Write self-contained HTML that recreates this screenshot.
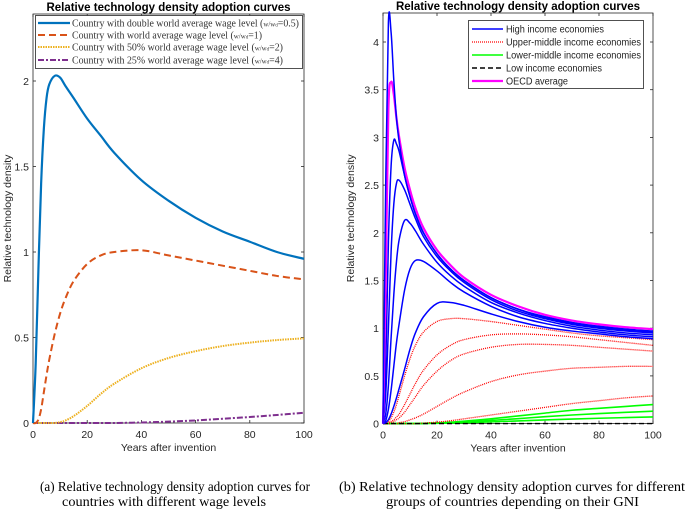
<!DOCTYPE html>
<html><head><meta charset="utf-8"><style>
body{margin:0;background:#fff;width:685px;height:511px;overflow:hidden}
svg{display:block}
.t{font-family:"Liberation Sans",sans-serif;font-size:10.5px;fill:#262626}
.ttl{font-family:"Liberation Sans",sans-serif;font-size:11.5px;font-weight:bold;fill:#000}
.cap{font-family:"Liberation Serif",serif;font-size:14px;fill:#000}
.lg{font-family:"Liberation Serif",serif;font-size:10px;fill:#333}
.lg2{font-family:"Liberation Sans",sans-serif;font-size:10px;fill:#222}
</style></head><body>
<svg id="s" width="685" height="511"></svg>
<script>
const T=[0,1,2,3,4,5,6,8,10,12,15,20,25,30,40,50,60,70,80,90,100];
const xTicks=[0,20,40,60,80,100];
const yTicksA=[0,0.5,1,1.5,2];
const yTicksB=[0,0.5,1,1.5,2,2.5,3,3.5,4];
const aBlue=[0,0.35,0.9,1.4,1.72,1.9,1.98,2.03,2.02,1.97,1.9,1.78,1.68,1.58,1.42,1.3,1.2,1.12,1.06,1.0,0.96];
const aOrange=[0,0,0.02,0.08,0.18,0.28,0.37,0.52,0.64,0.73,0.83,0.93,0.98,1.0,1.01,0.98,0.95,0.92,0.89,0.86,0.84];
const aYellow=[0,0,0,0,0,0,0,0,0.005,0.015,0.04,0.1,0.17,0.23,0.32,0.38,0.42,0.45,0.47,0.485,0.495];
const aPurple=[0,0,0,0,0,0,0,0,0,0,0,0,0,0,0.003,0.008,0.015,0.025,0.035,0.047,0.06];
const hi1=[0,2.5,4.2,4.1,3.6,3.2,2.95,2.6,2.38,2.2,2.0,1.78,1.62,1.5,1.32,1.2,1.12,1.06,1.02,0.99,0.97];
const hi2=[0,0.6,1.9,2.7,2.97,2.93,2.85,2.6,2.38,2.2,2.0,1.78,1.62,1.5,1.32,1.2,1.11,1.05,1.01,0.98,0.96];
const hi3=[0,0.3,1.0,1.8,2.3,2.52,2.55,2.45,2.3,2.15,1.96,1.75,1.6,1.48,1.3,1.18,1.1,1.04,1.0,0.97,0.95];
const hi4=[0,0.1,0.4,0.9,1.35,1.7,1.93,2.13,2.1,2.02,1.88,1.69,1.55,1.44,1.27,1.16,1.08,1.02,0.98,0.95,0.93];
const hi5=[0,0.03,0.15,0.35,0.6,0.85,1.05,1.4,1.62,1.71,1.7,1.6,1.48,1.38,1.23,1.12,1.05,1.0,0.96,0.93,0.91];
const hi6=[0,0.01,0.04,0.1,0.18,0.27,0.37,0.57,0.78,0.95,1.12,1.26,1.27,1.24,1.15,1.07,1.01,0.97,0.94,0.91,0.89];
const up1=[0,0,0.02,0.06,0.12,0.2,0.3,0.5,0.68,0.82,0.96,1.07,1.1,1.1,1.07,1.03,0.99,0.95,0.92,0.9,0.88];
const up2=[0,0,0.01,0.02,0.04,0.07,0.1,0.2,0.31,0.42,0.56,0.72,0.82,0.88,0.93,0.94,0.93,0.91,0.88,0.85,0.82];
const up3=[0,0,0,0.01,0.02,0.04,0.06,0.12,0.2,0.28,0.4,0.55,0.66,0.73,0.8,0.83,0.83,0.82,0.8,0.78,0.76];
const up4=[0,0,0,0,0,0,0.01,0.02,0.04,0.06,0.1,0.18,0.26,0.33,0.44,0.51,0.55,0.58,0.59,0.6,0.6];
const up5=[0,0,0,0,0,0,0,0,0,0,0.005,0.015,0.03,0.05,0.09,0.13,0.17,0.21,0.24,0.27,0.29];
const lm1=[0,0,0,0,0,0,0,0,0,0,0.003,0.008,0.015,0.025,0.05,0.08,0.11,0.14,0.16,0.18,0.2];
const lm2=[0,0,0,0,0,0,0,0,0,0,0.002,0.005,0.01,0.016,0.033,0.052,0.072,0.09,0.105,0.118,0.13];
const lm3=[0,0,0,0,0,0,0,0,0,0,0.001,0.003,0.005,0.009,0.018,0.028,0.038,0.048,0.056,0.063,0.07];
const low1=[0,0,0,0,0,0,0,0,0,0,0,0,0,0,0,0,0,0,0,0,0];
const oecd=[0,1.5,3.3,3.58,3.45,3.2,3.0,2.68,2.45,2.26,2.05,1.82,1.66,1.53,1.35,1.23,1.14,1.08,1.04,1.01,0.99];

const NS="http://www.w3.org/2000/svg";
const S=document.getElementById('s');
function mk(tag,at,parent){const e=document.createElementNS(NS,tag);for(const k in at)e.setAttribute(k,at[k]);(parent||S).appendChild(e);return e;}
function axes(ax){
  const sx=t=>ax.x0+(t/100)*(ax.x1-ax.x0);
  const sy=v=>ax.yb-(v/ax.ymax)*(ax.yb-ax.yt);
  return {sx,sy};
}
function path(sx,sy,ys){
  const p=T.map((t,i)=>[sx(t),sy(ys[i])]);
  let d='M'+p[0][0]+','+p[0][1];
  for(let i=0;i<p.length-1;i++){
    const p0=p[Math.max(0,i-1)],p1=p[i],p2=p[i+1],p3=p[Math.min(p.length-1,i+2)];
    const c1=[p1[0]+(p2[0]-p0[0])/6,p1[1]+(p2[1]-p0[1])/6];
    const c2=[p2[0]-(p3[0]-p1[0])/6,p2[1]-(p3[1]-p1[1])/6];
    d+=`C${c1[0].toFixed(2)},${c1[1].toFixed(2)} ${c2[0].toFixed(2)},${c2[1].toFixed(2)} ${p2[0].toFixed(2)},${p2[1].toFixed(2)}`;
  }
  return d;
}
function frame(ax,yt,name){
  const {sx,sy}=axes(ax);
  const g=mk('g',{});
  
  
  mk('rect',{x:ax.x0,y:ax.yt,width:ax.x1-ax.x0,height:ax.yb-ax.yt,fill:'#fff',stroke:'#262626','stroke-width':0.8},g);
  xTicks.forEach(t=>{
    const x=sx(t);
    mk('line',{x1:x,x2:x,y1:ax.yb,y2:ax.yb-3,stroke:'#262626','stroke-width':0.8},g);
    mk('line',{x1:x,x2:x,y1:ax.yt,y2:ax.yt+3,stroke:'#262626','stroke-width':0.8},g);
    const tx=mk('text',{x:x,y:ax.yb+15,'text-anchor':'middle',class:'t'},g);tx.textContent=t;
    
    
  });
  yt.forEach(v=>{
    const y=sy(v);
    mk('line',{x1:ax.x0,x2:ax.x0+3,y1:y,y2:y,stroke:'#262626','stroke-width':0.8},g);
    mk('line',{x1:ax.x1,x2:ax.x1-3,y1:y,y2:y,stroke:'#262626','stroke-width':0.8},g);
    const tx=mk('text',{x:ax.x0-4,y:y+4,'text-anchor':'end',class:'t'},g);tx.textContent=v;
    
    
  });
  const xl=mk('text',{x:(ax.x0+ax.x1)/2,y:ax.yb+28,'text-anchor':'middle',class:'t'},g);xl.textContent='Years after invention';
  
  
  const cy=(ax.yt+ax.yb)/2;
  const yl=mk('text',{x:ax.ylx,y:cy,'text-anchor':'middle',class:'t',transform:`rotate(-90 ${ax.ylx} ${cy})`},g);yl.textContent='Relative technology density';
  
  
  const ti=mk('text',{x:(ax.x0+ax.x1)/2,y:ax.yt-3,'text-anchor':'middle',class:'ttl'},g);ti.textContent='Relative technology density adoption curves';
  
  
  return {sx,sy};
}
function line(A,ys,st,name){
  const e=mk('path',Object.assign({d:path(A.sx,A.sy,ys),fill:'none','stroke-linejoin':'round'},st));
  
  
}
const axA={x0:33,x1:304,yt:14,yb:423,ymax:(423-14)/171,ylx:11};
const A=frame(axA,yTicksA,'left');
line(A,aPurple,{stroke:'#7E2F8E','stroke-width':2,'stroke-dasharray':'6 2 2 2'},'series-25pct-wage');
line(A,aYellow,{stroke:'#EDB120','stroke-width':2,'stroke-dasharray':'1.5 1'},'series-50pct-wage');
line(A,aOrange,{stroke:'#D95319','stroke-width':2,'stroke-dasharray':'7 4'},'series-world-wage');
line(A,aBlue,{stroke:'#0072BD','stroke-width':2.2},'series-double-wage');
const axB={x0:383,x1:653,yt:13,yb:423.6,ymax:(423.6-13)/95.4,ylx:354};
const B=frame(axB,yTicksB,'right');
[lm1,lm2,lm3].forEach(s=>line(B,s,{stroke:'#00ff00','stroke-width':1.6},'series-lower-middle-income'));
[up1,up2,up3,up4,up5].forEach(s=>line(B,s,{stroke:'#ff0000','stroke-width':1.3,'stroke-dasharray':'1 1'},'series-upper-middle-income'));
line(B,low1,{stroke:'#000','stroke-width':1.4,'stroke-dasharray':'5 3'},'series-low-income');
[hi6,hi5,hi4,hi3,hi2].forEach(s=>line(B,s,{stroke:'#0000ff','stroke-width':1.5},'series-high-income'));
line(B,oecd,{stroke:'#ff00ff','stroke-width':2.2},'series-oecd-average');
line(B,hi1,{stroke:'#0000ff','stroke-width':1.5},'series-high-income');
</script>
<svg style="position:absolute;left:0;top:0" width="685" height="511">
 <g>
  <rect x="35.5" y="15.5" width="267" height="53" fill="#fff" stroke="#262626" stroke-width="0.8"/>
  <line x1="38" x2="70" y1="23" y2="23" stroke="#0072BD" stroke-width="2.2"/>
  <text class="lg" x="72" y="26.5" textLength="227" lengthAdjust="spacingAndGlyphs">Country with double world average wage level (<tspan font-size="7">w/w</tspan><tspan font-size="5">d</tspan>=0.5)</text>
  <line x1="38" x2="70" y1="35" y2="35" stroke="#D95319" stroke-width="2" stroke-dasharray="7 4"/>
  <text class="lg" x="72" y="38.5" textLength="190" lengthAdjust="spacingAndGlyphs">Country with world average wage level (<tspan font-size="7">w/w</tspan><tspan font-size="5">d</tspan>=1)</text>
  <line x1="38" x2="70" y1="47" y2="47" stroke="#EDB120" stroke-width="2" stroke-dasharray="1.5 1"/>
  <text class="lg" x="72" y="50.5" textLength="211" lengthAdjust="spacingAndGlyphs">Country with 50% world average wage level (<tspan font-size="7">w/w</tspan><tspan font-size="5">d</tspan>=2)</text>
  <line x1="38" x2="70" y1="60" y2="60" stroke="#7E2F8E" stroke-width="2" stroke-dasharray="6 2 2 2"/>
  <text class="lg" x="72" y="63.5" textLength="211" lengthAdjust="spacingAndGlyphs">Country with 25% world average wage level (<tspan font-size="7">w/w</tspan><tspan font-size="5">d</tspan>=4)</text>
 </g>
 <g>
  <rect x="468.5" y="20.5" width="175" height="68" fill="#fff" stroke="#262626" stroke-width="0.8"/>
  <line x1="472" x2="503" y1="29" y2="29" stroke="#0000ff" stroke-width="1.5"/>
  <text class="lg2" x="506" y="32.5" textLength="98" lengthAdjust="spacingAndGlyphs">High income economies</text>
  <line x1="472" x2="503" y1="42" y2="42" stroke="#ff0000" stroke-width="1.3" stroke-dasharray="1 1"/>
  <text class="lg2" x="506" y="45.5" textLength="135" lengthAdjust="spacingAndGlyphs">Upper-middle income economies</text>
  <line x1="472" x2="503" y1="55" y2="55" stroke="#00ff00" stroke-width="1.6"/>
  <text class="lg2" x="506" y="58.5" textLength="135" lengthAdjust="spacingAndGlyphs">Lower-middle income economies</text>
  <line x1="472" x2="503" y1="68" y2="68" stroke="#000" stroke-width="1.4" stroke-dasharray="5 3"/>
  <text class="lg2" x="506" y="71.5" textLength="96" lengthAdjust="spacingAndGlyphs">Low income economies</text>
  <line x1="472" x2="503" y1="81" y2="81" stroke="#ff00ff" stroke-width="2.2"/>
  <text class="lg2" x="506" y="84.5" textLength="62" lengthAdjust="spacingAndGlyphs">OECD average</text>
 </g>
 <g>
  <text class="cap" x="40" y="491" textLength="270" lengthAdjust="spacingAndGlyphs">(a) Relative technology density adoption curves for</text>
  <text class="cap" x="62" y="506" textLength="204" lengthAdjust="spacingAndGlyphs">countries with different wage levels</text>
  <text class="cap" x="339" y="491" textLength="346" lengthAdjust="spacingAndGlyphs">(b) Relative technology density adoption curves for different</text>
  <text class="cap" x="386" y="506" textLength="253" lengthAdjust="spacingAndGlyphs">groups of countries depending on their GNI</text>
 </g>
</svg>
</body></html>
